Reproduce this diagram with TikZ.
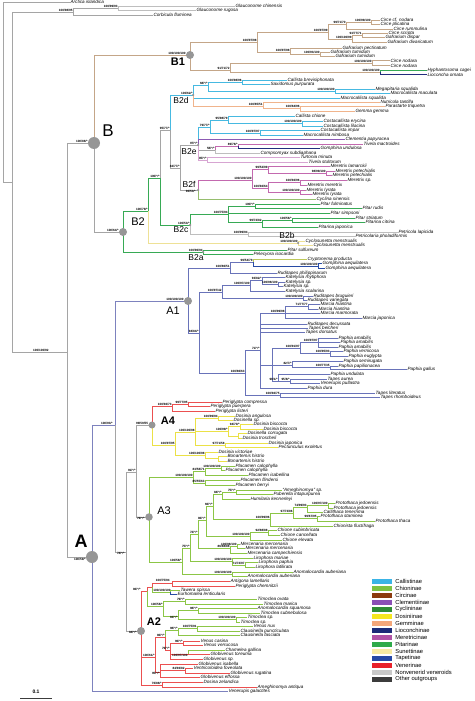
\documentclass[tikz,border=0pt]{standalone}
\usepackage{fontspec}
\setmainfont{Liberation Sans}
\usetikzlibrary{positioning}

% branch colours
\definecolor{bgr}{RGB}{165,165,165}
\definecolor{btan}{RGB}{196,166,136}
\definecolor{bcal}{RGB}{70,185,225}
\definecolor{bgem}{RGB}{240,180,140}
\definecolor{bcle}{RGB}{140,90,180}
\definecolor{bmer}{RGB}{195,105,175}
\definecolor{bmel}{RGB}{215,165,210}
\definecolor{bliu}{RGB}{35,45,125}
\definecolor{bpit}{RGB}{55,170,85}
\definecolor{bsun}{RGB}{238,225,150}
\definecolor{bcry}{RGB}{190,200,90}
\definecolor{btap}{RGB}{40,75,165}
\definecolor{btpb}{RGB}{105,115,185}
\definecolor{bven}{RGB}{235,80,80}
\definecolor{bchi}{RGB}{140,198,70}
\definecolor{bdos}{RGB}{235,225,70}
\definecolor{bcyc}{RGB}{150,190,110}
\definecolor{bnon}{RGB}{190,190,190}
\definecolor{bstem}{RGB}{125,130,190}
\definecolor{bdot}{RGB}{150,150,150}
% legend colours
\definecolor{lgcal}{RGB}{58,180,230}
\definecolor{lgchi}{RGB}{125,194,66}
\definecolor{lgcir}{RGB}{139,58,14}
\definecolor{lgcle}{RGB}{138,79,181}
\definecolor{lgcyc}{RGB}{46,139,53}
\definecolor{lgdos}{RGB}{245,230,30}
\definecolor{lggem}{RGB}{244,167,122}
\definecolor{lglio}{RGB}{27,42,120}
\definecolor{lgmer}{RGB}{176,82,166}
\definecolor{lgpit}{RGB}{46,170,74}
\definecolor{lgsun}{RGB}{247,234,162}
\definecolor{lgtap}{RGB}{37,72,165}
\definecolor{lgven}{RGB}{232,32,42}
\definecolor{lgnon}{RGB}{200,200,200}
\definecolor{lgout}{RGB}{60,60,60}

% leaf: name, parent, colour, x, y, taxon
\newcommand{\vtip}[6]{\node[tipl] (#1) at (#4,#5) {#6};\draw[br=#3] (#2) |- (#1.west);}
% inner node: [label opts], name, parent, colour, x, y, support
\newcommand{\vclade}[7][]{\coordinate (#2) at (#5,#6);\draw[br=#4] (#3) |- (#2);\node[supl,#1] (#2s) at (#2) {#7};}

\begin{document}
\begin{tikzpicture}[x=1pt, y=-1pt,
    br/.style={draw=#1, line width=0.7pt},
    tipl/.style={anchor=west, inner sep=0.4pt, font=\fontsize{4.6}{5}\selectfont\itshape},
    supl/.style={anchor=south east, inner sep=0.2pt, font=\fontsize{3.1}{3.4}\selectfont\bfseries},
    bigdot/.style={circle, fill=bdot, inner sep=0pt, minimum size=#1},
    cladel/.style={inner sep=0pt, font=\fontsize{11}{11}\selectfont},
    subl/.style={inner sep=0pt, font=\fontsize{8.5}{8.5}\selectfont},
    legbox/.style={minimum width=20pt, minimum height=5pt, inner sep=0pt},
    legl/.style={inner sep=0pt, font=\fontsize{5.8}{6}\selectfont}
  ]
  \useasboundingbox (0,0) rectangle (474,701);
  \fill[white] (0,0) rectangle (474,701);

  % root and outgroups
  \coordinate (root) at (3,100);
  \vtip{arc}{root}{bgr}{70}{2}{Arctica islandica}
  \vclade{ing}{root}{bgr}{12}{182}{}
  \vclade{glc}{ing}{bgr}{73}{12}{100/98/95}
  \vclade{gla}{glc}{bgr}{118}{8}{100/99/93}
  \vtip{gchi}{gla}{bnon}{235}{6}{Glauconome chinensis}
  \vtip{grug}{gla}{bnon}{196}{10}{Glauconome rugosa}
  \vtip{cflu}{glc}{bgr}{153}{15}{Corbicula fluminea}
  \vclade[xshift=-18pt]{ingr}{ing}{bgr}{67}{352}{100/100/92}

  % clade B
  \vclade[xshift=-6pt]{bb}{ingr}{bgr}{94}{143}{100/88/*}
  % B1
  \vclade[xshift=-4pt]{bone}{bb}{btan}{190}{55}{100/100/100}
  \vclade{bonea}{bone}{btan}{257}{42}{100/97/98}
  \vclade{ci1}{bonea}{btan}{328}{32}{100/97/99}
  \vclade{ci2}{ci1}{btan}{346}{24}{99/71/70}
  \vclade{ci3}{ci2}{btan}{371}{22}{100/99/100}
  \vtip{cnod}{ci3}{btan}{380}{20}{Circe cf. nodara}
  \vtip{cpli}{ci3}{btan}{380}{24}{Circe plicatina}
  \vtip{crum}{ci2}{btan}{393}{29}{Circe rummulina}
  \vclade{ci4}{ci1}{btan}{352}{39}{100/100/99}
  \vclade{ci5}{ci4}{btan}{362}{35}{93/77/71}
  \vtip{cscr}{ci5}{btan}{388}{33}{Circe scripta}
  \vtip{gdis}{ci5}{btan}{385}{37}{Gafrarium dispar}
  \vtip{gdiv}{ci4}{btan}{387}{42}{Gafrarium divaricatum}
  \vclade{ga1}{bonea}{btan}{290}{52}{100/97/98}
  \vtip{gpec}{ga1}{btan}{342}{48}{Gafrarium pectinatum}
  \vclade{ga2}{ga1}{btan}{320}{54}{100/93/100}
  \vtip{gtua}{ga2}{btan}{330}{52}{Gafrarium tumidum}
  \vtip{gtub}{ga2}{btan}{335}{56}{Gafrarium tumidum}
  \vclade{boneb}{bone}{btan}{230}{70}{91/71/72}
  \vclade{cn}{boneb}{btan}{372}{63}{100/100/100}
  \vtip{cnoa}{cn}{btan}{390}{60.8}{Circe nodara}
  \vtip{cnob}{cn}{btan}{390}{65.6}{Circe nodara}
  \vclade{hl}{boneb}{btan}{380}{72}{100/100/100}
  \vtip{hcag}{hl}{bpit}{427}{70}{Hyphantosoma cagei}
  \vtip{lorn}{hl}{bliu}{427}{74.4}{Lioconcha ornata}

  % B2
  \vclade[xshift=-4pt]{btwo}{bb}{bgr}{123}{232}{100/64/*}
  \vclade{ptwo}{btwo}{bpit}{148}{211}{100/79/*}
  \vclade{qtwo}{ptwo}{bpit}{160}{178}{100/*/*}
  \vclade{rtwo}{qtwo}{bgr}{170}{130}{95/77/*}
  \vclade{stwo}{rtwo}{bgr}{180}{168}{82/77/*}
  % B2d
  \vclade{btd}{rtwo}{bcal}{193}{95}{100/62/*}
  \vclade{utwo}{btd}{bcal}{208}{85}{68/*/*}
  \vclade{wone}{utwo}{bcal}{242}{82}{100/98/96}
  \vtip{cbre}{wone}{bcal}{287}{80}{Callista brevisiphonata}
  \vtip{spur}{wone}{bcal}{270}{84}{Saxidomus purpurata}
  \vclade{wtwo}{utwo}{bcal}{335}{91}{100/100/100}
  \vtip{msqu}{wtwo}{bcal}{375}{89}{Megapitaria squalida}
  \vtip{mmac}{wtwo}{bcal}{390}{93}{Macrocallista maculata}
  \vtip{mcsq}{btd}{bcal}{340}{98}{Macrocallista squalida}
  \vclade{xtwo}{btd}{bgem}{263}{106}{100/85/51}
  \vtip{ntan}{xtwo}{bgem}{380}{102}{Nutricola tantilla}
  \vclade{ytwo}{xtwo}{bgem}{300}{108}{100/84/96}
  \vtip{ptri}{ytwo}{bgem}{385}{106}{Parastarte triquetra}
  \vtip{ggem}{ytwo}{bgem}{355}{111}{Gemma gemma}
  % B2e
  \vclade{bte}{stwo}{bgr}{198}{145}{97/*/*}
  \vclade{cone}{bte}{bcal}{210}{127}{79/77/*}
  \vclade{ctwo}{cone}{bcal}{228}{120}{95/98/79}
  \vtip{cchi}{ctwo}{bcal}{295}{116}{Callista chione}
  \vclade{cthr}{ctwo}{bcal}{302}{123}{100/100/100}
  \vtip{cery}{cthr}{bcal}{323}{121}{Costacallista erycina}
  \vtip{clil}{cthr}{bcal}{323}{126}{Costacallista lilacina}
  \vclade{cfou}{cone}{bcal}{260}{133}{100/97/97}
  \vtip{cimp}{cfou}{bcal}{320}{130}{Costacallista impar}
  \vtip{mnim}{cfou}{bcal}{303}{135}{Macrocallista nimbosa}
  \vtip{cpap}{bte}{bcle}{345}{139}{Clementia papyracea}
  \vclade{cfiv}{bte}{bgr}{215}{150}{58/*/*}
  \vclade{csix}{cfiv}{bmer}{238}{146}{89/78/*}
  \vtip{tmac}{csix}{bmer}{363}{144}{Tivela mactroides}
  \vtip{gund}{csix}{bliu}{320}{148}{Gomphina undulosa}
  \vtip{csub}{cfiv}{bnon}{260}{153}{Compsomyax subdiaphana}
  \vclade{csev}{bte}{bmel}{207}{160}{85/*/*}
  \vtip{tmin}{csev}{bmel}{300}{157}{Turtonia minuta}
  \vtip{tstu}{csev}{bmel}{308}{162}{Tivela stultorum}
  % B2f
  \vclade[anchor=north east,xshift=-2pt]{btf}{stwo}{bgr}{198}{190}{96/53/*}
  \vclade{mone}{btf}{bmer}{252}{180}{100/100/100}
  \vclade{mtwo}{mone}{bmer}{268}{169}{99/52/99}
  \vtip{mlam}{mtwo}{bmer}{330}{166}{Meretrix lamarckii}
  \vclade{mthr}{mtwo}{bmer}{326}{173}{98/99/100}
  \vtip{mpea}{mthr}{bmer}{335}{171}{Meretrix petechialis}
  \vtip{mpeb}{mthr}{bmer}{332}{175}{Meretrix petechialis}
  \vclade{mfou}{mone}{bmer}{268}{188}{100/92/64}
  \vclade{mfiv}{mfou}{bmer}{300}{182}{100/92/96}
  \vtip{msp}{mfiv}{bmer}{347}{180}{Meretrix sp.}
  \vtip{mmer}{mfiv}{bmer}{307}{185}{Meretrix meretrix}
  \vclade{msix}{mfou}{bmer}{300}{192}{100/100/100}
  \vtip{mlya}{msix}{bmer}{306}{190}{Meretrix lyrata}
  \vtip{mlyb}{msix}{bmer}{312}{194}{Meretrix lyrata}
  \vtip{csin}{btf}{bcyc}{316}{199}{Cyclina sinensis}
  % B2c and B2b
  \vclade{btc}{qtwo}{bpit}{190}{225}{100/53/*}
  \vclade{pone}{btc}{bpit}{228}{214}{100/75/94}
  \vclade{ptw}{pone}{bpit}{255}{206}{100/*/*}
  \vtip{pful}{ptw}{bpit}{320}{204}{Pitar fulminatus}
  \vtip{prud}{ptw}{bpit}{362}{208}{Pitar rudis}
  \vtip{psim}{pone}{bpit}{330}{213}{Pitar simpsoni}
  \vclade{pth}{pone}{bpit}{262}{222}{99/72/82}
  \vclade{pfo}{pth}{bpit}{292}{220}{100/56/*}
  \vtip{pstr}{pfo}{bpit}{355}{218}{Pitar striatum}
  \vtip{pcit}{pfo}{bpit}{365}{222}{Pitarina citrina}
  \vtip{pjap}{pth}{bpit}{318}{227}{Pitarina japonica}
  \vclade{btb}{btc}{bnon}{248}{234}{100/99/94}
  \vtip{plap}{btb}{bnon}{398}{232}{Petricola lapicida}
  \vtip{ppho}{btb}{bnon}{355}{236}{Petricolaria pholadiformis}
  \vclade{cys}{ptwo}{bsun}{298}{243}{100/100/100}
  \vtip{cmea}{cys}{bsun}{305}{241}{Cyclosunetta menstrualis}
  \vtip{cmeb}{cys}{bsun}{313}{245}{Cyclosunetta menstrualis}
  % B2a
  \vclade{bta}{btwo}{bpit}{203}{252}{100/96/94}
  \vtip{psul}{bta}{bpit}{287}{250}{Pitar sulfureum}
  \vtip{piso}{bta}{bpit}{253}{254}{Pelecyora isocardia}

  % clade A
  \vclade[anchor=north east,xshift=-6pt,yshift=-1pt]{aa}{ingr}{bgr}{92}{557}{100/59/*}
  \vclade[xshift=-2pt]{aup}{aa}{bstem}{115}{425}{100/93/*}
  \vtip{vgal}{aa}{bstem}{228}{691}{Venerupis galactites}
  % A1
  \vclade[xshift=-4pt]{aone}{aup}{bstem}{188}{301}{100/100/100}
  \vclade{uone}{aone}{btpb}{230}{268}{100/86/51}
  \vclade{gone}{uone}{btpb}{253}{262}{99/54/79}
  \vtip{cpro}{gone}{bcry}{307}{259}{Cryptonema producta}
  \vclade{gtwo}{gone}{btap}{318}{266}{100/100/100}
  \vtip{gaea}{gtwo}{btap}{322}{263}{Gomphina aequilatera}
  \vtip{gaeb}{gtwo}{btap}{325}{268}{Gomphina aequilatera}
  \vtip{rphi}{uone}{btpb}{277}{273}{Ruditapes philippinarum}
  \vclade{lone}{aone}{btpb}{199}{333}{94/84/*}
  \vclade{kk}{lone}{btpb}{222}{292}{100/97/42}
  \vclade{kone}{kk}{btpb}{250}{285}{100/97/100}
  \vclade{kthr}{kone}{btpb}{262}{280}{93/82/*}
  \vtip{krhy}{kthr}{btpb}{285}{277}{Katelysia rhytiphora}
  \vclade{kfou}{kthr}{btpb}{278}{284}{100/98/100}
  \vtip{ksa}{kfou}{btpb}{285}{282}{Katelysia sp.}
  \vtip{ksb}{kfou}{btpb}{283}{286}{Katelysia sp.}
  \vtip{ksca}{kone}{btpb}{285}{291}{Katelysia scalarina}
  \vclade{ktwo}{kk}{btpb}{303}{298}{100/100/100}
  \vtip{rbru}{ktwo}{btpb}{313}{296}{Ruditapes bruguieri}
  \vtip{rvar}{ktwo}{btpb}{307}{300}{Ruditapes variegata}
  \vclade{mm}{lone}{btpb}{245}{373}{100/86/63}
  \vclade{ma}{mm}{btpb}{260}{350}{71/*/*}
  \vclade{mc}{ma}{btpb}{285}{313}{100/99/98}
  \vclade{mcone}{mc}{btpb}{308}{306}{71/77/77}
  \vtip{mhia}{mcone}{btpb}{320}{304}{Marcia hiantina}
  \vtip{mhib}{mcone}{btpb}{318}{309}{Marcia hiantina}
  \vtip{mmar}{mc}{btpb}{320}{313}{Marcia marmorata}
  \vtip{mjap}{mc}{btpb}{362}{318}{Marcia japonica}
  \vtip{rdec}{ma}{btpb}{307}{324}{Ruditapes decussata}
  \vtip{tbel}{ma}{btpb}{308}{328}{Tapes belcheri}
  \vtip{tdor}{ma}{btpb}{305}{332}{Tapes dorsatus}
  \vclade{pp}{ma}{btpb}{272}{365}{}
  \vclade{pa}{pp}{btpb}{300}{348}{100/91/97}
  \vclade{paone}{pa}{btpb}{318}{342}{100/97/97}
  \vtip{pama}{paone}{btpb}{338}{338}{Paphia amabilis}
  \vtip{pamb}{paone}{btpb}{340}{342}{Paphia amabilis}
  \vtip{pamc}{paone}{btpb}{338}{347}{Paphia amabilis}
  \vclade{patwo}{pa}{btpb}{330}{353}{100/95/93}
  \vtip{pver}{patwo}{btpb}{343}{351}{Paphia vernicosa}
  \vtip{peug}{patwo}{btpb}{348}{356}{Paphia euglypta}
  \vclade{pb}{pp}{btpb}{292}{365}{82/7/*}
  \vtip{psem}{pb}{btpb}{343}{361}{Paphia semirugata}
  \vclade{pbone}{pb}{btpb}{330}{367}{100/77/35}
  \vtip{ppap}{pbone}{btpb}{338}{366}{Paphia papilionacea}
  \vtip{pgal}{pbone}{btpb}{407}{369}{Paphia gallus}
  \vclade{pc}{pp}{btpb}{278}{381}{99/1/*}
  \vtip{pund}{pc}{btpb}{330}{374}{Paphia undulata}
  \vclade{pcone}{pc}{btpb}{290}{381}{95/8/*}
  \vtip{taur}{pcone}{btpb}{327}{379}{Tapes aurea}
  \vtip{vpul}{pcone}{btpb}{320}{383}{Venerupis pullastra}
  \vtip{pdur}{ma}{btpb}{307}{388}{Paphia dura}
  \vclade{tl}{mm}{btpb}{280}{395}{100/92/75}
  \vtip{tlit}{tl}{btpb}{375}{393}{Tapes literatus}
  \vtip{trho}{tl}{btpb}{380}{397}{Tapes rhomboideus}

  % A2 + A3 + A4
  \vclade[anchor=north east,xshift=-1pt]{atwop}{aup}{bgr}{126}{552}{74/*/*}
  \vclade{afth}{atwop}{bgr}{136}{472}{91/*/*}
  % A4
  \vclade[xshift=-3.5pt]{afour}{afth}{bgr}{152}{425}{99/59/55}
  \vclade{peri}{afour}{bven}{172}{406}{100/92/73}
  \vclade{peone}{peri}{bven}{188}{404}{99/77/95}
  \vtip{pcom}{peone}{bven}{222}{402}{Periglypta compressa}
  \vtip{ppue}{peone}{bven}{210}{406}{Periglypta puerpera}
  \vtip{plis}{peri}{bven}{215}{411}{Periglypta listeri}
  \vclade{dos}{afour}{bdos}{175}{445}{100/97/95}
  \vclade{done}{dos}{bdos}{195}{432}{100/100/98}
  \vclade{dele}{done}{bdos}{218}{418}{100/99/94}
  \vtip{dang}{dele}{bdos}{235}{416}{Dosinia angulosa}
  \vtip{dlsp}{dele}{bdos}{233}{420}{Dosinella sp.}
  \vclade{dtw}{done}{bdos}{228}{431}{100/99/*}
  \vclade{dthi}{dtw}{bdos}{240}{426}{94/70/*}
  \vtip{dbia}{dthi}{bdos}{253}{424}{Dosinia biscocta}
  \vtip{dbib}{dthi}{bdos}{263}{429}{Dosinia biscocta}
  \vclade{dfou}{dtw}{bdos}{238}{436}{}
  \vtip{dcor}{dfou}{bdos}{247}{433}{Dosinella corrugata}
  \vtip{dtro}{dfou}{bdos}{242}{438}{Dosinia troscheli}
  \vclade{dfif}{done}{bdos}{225}{445}{97/71/58}
  \vtip{djap}{dfif}{bdos}{268}{443}{Dosinia japonica}
  \vtip{pexo}{dfif}{bdos}{278}{447}{Pectunculus exoletus}
  \vclade{dtwo}{dos}{bdos}{205}{455}{100/100/98}
  \vtip{dvic}{dtwo}{bdos}{218}{452}{Dosinia victoriae}
  \vclade{dtwa}{dtwo}{bdos}{218}{458}{}
  \vtip{bhia}{dtwa}{bdos}{227}{456}{Bonartemis histrio}
  \vtip{bhib}{dtwa}{bdos}{227}{461}{Bonartemis histrio}
  % A3
  \vclade[anchor=north east,xshift=-4pt]{athr}{afth}{bgr}{149}{517}{79/*/*}
  \vclade{pl}{athr}{bchi}{193}{477}{100/100/100}
  \vclade{plone}{pl}{bchi}{205}{471}{83/58/71}
  \vclade{pltwo}{plone}{bchi}{221}{468}{100/100/100}
  \vtip{pcaa}{pltwo}{bchi}{235}{466}{Placamen calophylla}
  \vtip{pcab}{pltwo}{bchi}{225}{470}{Placamen calophylla}
  \vtip{pisa}{plone}{bchi}{248}{475}{Placamen isabellina}
  \vclade{plthr}{pl}{bchi}{205}{483}{85/55/63}
  \vtip{pfli}{plthr}{bchi}{240}{480}{Placamen flindersi}
  \vtip{pber}{plthr}{bchi}{235}{485}{Placamen berryi}
  \vclade{czero}{athr}{bchi}{182}{562}{100/58/*}
  \vclade{ne}{czero}{bchi}{190}{548}{75/*/*}
  \vclade{nd}{ne}{bchi}{198}{534}{72/*/*}
  \vclade{nc}{nd}{bchi}{206}{520}{86/*/*}
  \vclade{nb}{nc}{bchi}{213}{506}{66/*/*}
  \vclade{na}{nb}{bchi}{222}{494}{84/*/*}
  \vclade{ame}{na}{bchi}{236}{492}{75/*/*}
  \vtip{amsp}{ame}{bchi}{282}{490}{``Ameghinomya'' sp.}
  \vtip{pint}{ame}{bchi}{273}{494}{Puberella intapurpurea}
  \vtip{hken}{na}{bchi}{250}{499}{Humilaria kennerleyi}
  \vclade{proto}{nb}{bchi}{270}{519}{100/99/96}
  \vclade{prone}{proto}{bchi}{293}{513}{97/73/86}
  \vclade{prtwo}{prone}{bchi}{307}{507}{74/99/93}
  \vclade{prthr}{prtwo}{bchi}{328}{505}{100/97/100}
  \vtip{pjea}{prthr}{bchi}{335}{503}{Protothaca jedoensis}
  \vtip{pjeb}{prthr}{bchi}{333}{508}{Protothaca jedoensis}
  \vtip{cten}{prtwo}{bchi}{323}{512}{Callithaca tenerrima}
  \vclade{prfou}{prone}{bchi}{317}{518}{99/67/95}
  \vtip{psta}{prfou}{bchi}{320}{516}{Protothaca staminea}
  \vtip{ptha}{prfou}{bchi}{375}{521}{Protothaca thaca}
  \vtip{cflc}{proto}{bchi}{333}{526}{Chionista fluctifraga}
  \vclade{chi}{nc}{bchi}{250}{536}{100/100/100}
  \vclade{chone}{chi}{bchi}{268}{532}{92/88/88}
  \vtip{csbi}{chone}{bchi}{277}{530}{Chione subimbricata}
  \vtip{ccan}{chone}{bchi}{280}{535}{Chione cancellata}
  \vtip{cele}{chi}{bchi}{282}{540}{Chione elevata}
  \vclade{merc}{nd}{bchi}{230}{548}{86/88/88}
  \vclade{meone}{merc}{bchi}{237}{546}{100/98/100}
  \vtip{mmea}{meone}{bchi}{240}{544}{Mercenaria mercenaria}
  \vtip{mmeb}{meone}{bchi}{245}{548}{Mercenaria mercenaria}
  \vtip{mcam}{merc}{bchi}{247}{553}{Mercenaria campechiensis}
  \vclade{lir}{ne}{bchi}{232}{561}{100/100/100}
  \vtip{lmar}{lir}{bchi}{253}{558}{Lirophora mariae}
  \vclade{lirtwo}{lir}{bchi}{245}{565}{71/72/97}
  \vtip{lpap}{lirtwo}{bchi}{258}{562}{Lirophora paphia}
  \vtip{llat}{lirtwo}{bchi}{255}{567}{Lirophora latilirata}
  \vclade{ano}{czero}{bchi}{232}{574}{100/100/100}
  \vtip{aaua}{ano}{bchi}{293}{572}{Anomalocardia auberiana}
  \vtip{aaub}{ano}{bchi}{247}{576}{Anomalocardia auberiana}
  % A2
  \vclade[anchor=north east,xshift=-4pt]{atwo}{atwop}{bgr}{141}{631}{84/*/*}
  \vclade[xshift=-6pt]{atu}{atwo}{bven}{147}{591}{86/*/*}
  \vclade{ax}{atu}{bven}{152}{587}{}
  \vclade[xshift=-2pt,yshift=1pt]{ant}{ax}{bven}{172}{583}{100/75/94}
  \vtip{alam}{ant}{bven}{230}{581}{Antigona lamellaris}
  \vtip{pche}{ant}{bven}{235}{586}{Periglypta chemnitzii}
  \vclade[xshift=1pt]{te}{ax}{bchi}{170}{592}{100/100/100}
  \vtip{tspi}{te}{bchi}{180}{590}{Tawera spissa}
  \vtip{elen}{te}{btap}{177}{594}{Eurhomalea lenticularis}
  \vclade{tim}{atu}{bchi}{163}{606}{100/58/*}
  \vclade{tone}{tim}{bchi}{185}{601}{79/*/*}
  \vtip{tova}{tone}{bchi}{257}{599}{Timoclea ovata}
  \vtip{tmar}{tone}{bchi}{263}{604}{Timoclea marica}
  \vclade[anchor=north east]{ttw}{tim}{bchi}{178}{616}{83/*/*}
  \vclade{tth}{ttw}{bchi}{198}{610}{98/*/*}
  \vtip{asqu}{tth}{bchi}{257}{608}{Anomalocardia squamosa}
  \vtip{tsub}{tth}{bchi}{260}{613}{Timoclea subnebulosa}
  \vclade{tfo}{ttw}{bchi}{236}{619}{100/100/100}
  \vtip{tspa}{tfo}{bchi}{247}{617}{Timoclea sp.}
  \vtip{tspb}{tfo}{bchi}{240}{622}{Timoclea sp.}
  \vclade{vbig}{atwo}{bven}{155}{657}{100/61/*}
  \vclade{vone}{vbig}{bven}{165}{637}{86/*/*}
  \vclade{vfou}{vone}{bchi}{178}{630}{98/*/*}
  \vclade{vc}{vfou}{bchi}{197}{628}{100/75/91}
  \vtip{vnux}{vc}{bchi}{253}{626}{Venus nux}
  \vtip{cpun}{vc}{bchi}{240}{631}{Clausinella puncticulata}
  \vtip{cfas}{vfou}{bchi}{240}{635}{Clausinella fasciata}
  \vclade{vfiv}{vone}{bven}{170}{650}{79/*/*}
  \vclade{vsix}{vfiv}{bven}{183}{643}{96/*/*}
  \vtip{vcas}{vsix}{bven}{200}{641}{Venus casina}
  \vtip{vver}{vsix}{bven}{203}{645}{Venus verrucosa}
  \vclade[anchor=north east]{vsev}{vfiv}{bven}{188}{654}{100/97/100}
  \vtip{cgal}{vsev}{bchi}{225}{650}{Chamelea gallina}
  \vtip{gtor}{vsev}{bven}{210}{654}{Globivenus toreuma}
  \vtip{gvsp}{vfiv}{bven}{203}{659}{Globivenus sp.}
  \vclade[anchor=north east]{vtwo}{vbig}{bven}{160}{672}{95/*/*}
  \vtip{gisa}{vtwo}{bven}{198}{664}{Globivenus isabella}
  \vclade{vnin}{vtwo}{bven}{185}{670}{84/93/82}
  \vtip{vfov}{vnin}{bven}{193}{668}{Ventricoloidea foveolata}
  \vtip{gvrug}{vnin}{bven}{230}{673}{Globivenus rugatina}
  \vtip{geff}{vtwo}{bven}{200}{677}{Globivenus effossa}
  \vclade{vten}{atwo}{bven}{162}{685}{76/88/*}
  \vtip{dzel}{vten}{bven}{203}{682}{Dosina zelandica}
  \vtip{aant}{vten}{bven}{257}{687}{Ameghinomya antiqua}

  % clade markers
  \node[bigdot=12pt] (bbc) at (bb) {};
  \node[bigdot=12pt] (aac) at (aa) {};
  \node[bigdot=8pt] (bonec) at (bone) {};
  \node[bigdot=8pt] (btwoc) at (btwo) {};
  \node[bigdot=8pt] (aonec) at (aone) {};
  \node[bigdot=8pt] (atwoc) at (atwo) {};
  \node[bigdot=7.5pt] (athrc) at (athr) {};
  \node[bigdot=7pt] (afourc) at (afour) {};
  \foreach \c in {btd,bte,btf,btc,bta,cys}
    \node[bigdot=2.5pt] (\c c) at (\c) {};

  % clade labels
  \node[inner sep=0pt, font=\fontsize{18}{18}\selectfont\bfseries] (labA) at (81,541) {A};
  \node[inner sep=0pt, font=\fontsize{17}{17}\selectfont] (labB) at (108,131) {B};
  \node[cladel, font=\fontsize{11}{11}\selectfont\bfseries] (labBone) at (178,62) {B1};
  \node[cladel] (labBtwo) at (138,222) {B2};
  \node[cladel] (labAone) at (173,311) {A1};
  \node[cladel, font=\fontsize{11}{11}\selectfont\bfseries] (labAtwo) at (154,622) {A2};
  \node[cladel] (labAthr) at (164,511) {A3};
  \node[cladel, font=\fontsize{11}{11}\selectfont\bfseries] (labAfour) at (168,421) {A4};
  \node[subl] (labBa) at (196,258) {B2a};
  \node[subl] (labBb) at (287,235) {B2b};
  \node[subl] (labBc) at (181,230) {B2c};
  \node[subl] (labBd) at (181,100) {B2d};
  \node[subl] (labBe) at (189,152) {B2e};
  \node[subl] (labBf) at (189,184) {B2f};

  % legend
  \foreach \t/\c [count=\i] in {Callistinae/lgcal, Chioninae/lgchi, Circinae/lgcir,
      Clementiinae/lgcle, Cyclininae/lgcyc, Dosiniinae/lgdos, Gemminae/lggem,
      Lioconchinae/lglio, Meretricinae/lgmer, Pitarinae/lgpit, Sunettinae/lgsun,
      Tapetinae/lgtap, Venerinae/lgven, Nonvenerid veneroids/lgnon, Other outgroups/lgout}
  {
    \node[legbox, fill=\c] (lg\i) at (382,574+7*\i) {};
    \node[legl, anchor=west, right=3pt of lg\i] (lt\i) {\t};
  }

  % scale bar
  \coordinate (sba) at (20,698);
  \coordinate (sbb) at (52,698);
  \draw[lgout, line width=0.6pt] (sba) -- (sbb);
  \node[inner sep=0pt, font=\fontsize{5}{5}\selectfont\bfseries] (sbl) at (36,692) {0.1};
\end{tikzpicture}
\end{document}
